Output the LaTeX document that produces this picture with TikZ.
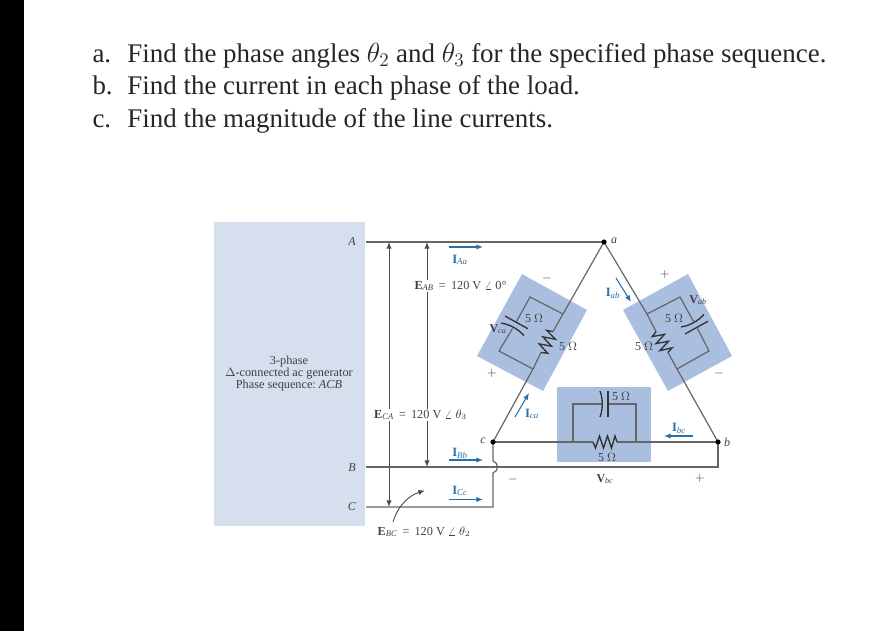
\documentclass[tikz,border=0pt]{standalone}
\usepackage{fontspec}
\setmainfont{Liberation Serif}
\usetikzlibrary{arrows.meta}

\newcommand{\qlab}[2]{$\mathbf{#1}_{\mathit{#2}}$}
\newcommand{\taskmark}[1]{\makebox[26.2pt][l]{#1}}

\tikzset{every picture/.style={line width=0.75pt}}
\tikzset{
  task/.style={anchor=west,inner sep=0pt,text=black!85,font=\fontsize{20.2pt}{22pt}\selectfont},
  lab/.style={inner sep=0.75pt,text=black!75,font=\fontsize{9pt}{9pt}\selectfont},
  cur/.style={inner sep=0.75pt,text=curblue,font=\fontsize{9.5pt}{9.5pt}\selectfont},
  emf/.style={inner sep=1pt,fill=white,text=black!75,font=\fontsize{9.2pt}{9.2pt}\selectfont},
  wire/.style={draw=black!60,line width=0.9pt},
  curarrow/.style={draw=curblue,line width=0.8pt,-{Latex[length=5pt,width=4pt]}},
  volt/.style={draw=black!70,line width=0.7pt,{Latex[length=5pt,width=4pt]}-{Latex[length=5pt,width=4pt]}},
  respic/.pic={\draw[black!80,line width=1pt] (-12,0) -- (-9.5,-6) -- (-5.5,6) -- (-1.5,-6) -- (2.5,6) -- (6.5,-6) -- (10,6) -- (12,0);},
  cappic/.pic={\draw[black!80,line width=1pt] (-5,-13) .. controls (-2,-5) and (-2,5) .. (-5,13);
    \draw[black!80,line width=1pt] (3,-13) -- (3,13);}
}
\definecolor{curblue}{RGB}{42,110,170}
\definecolor{genblue}{RGB}{213,223,238}
\definecolor{loadblue}{RGB}{170,190,224}

\begin{document}
\begin{tikzpicture}[x=0.75pt,y=0.75pt,yscale=-1,xscale=1]
        \useasboundingbox (0,0) rectangle (887,631);

        %Shape: Rectangle
        \fill [black] (0,0) rectangle (24,631);
        \fill [genblue] (214,222) rectangle (365,526);
        \fill [loadblue] (522,274) -- (587,310) -- (543,391) -- (477,356) -- cycle;
        \fill [loadblue] (688,274) -- (623,310) -- (668,391) -- (732,356) -- cycle;
        \fill [loadblue] (557,387) rectangle (651,462);

        % Points
        \coordinate (ptA) at (366,242);
        \coordinate (ptB) at (366,467);
        \coordinate (ptC) at (366,507);
        \coordinate (ptAu) at (427,242);
        \coordinate (ptBu) at (427,467);
        \coordinate (ptAv) at (389,242);
        \coordinate (ptCv) at (389,507);
        \coordinate (a) at (604,242);
        \coordinate (b) at (718,442);
        \coordinate (c) at (493,442);
        \coordinate (bumpU) at (493,461);
        \coordinate (bumpD) at (493,473);
        \coordinate (corB) at (718,467);
        \coordinate (corC) at (493,507);

        \coordinate (leftT) at (563,314);
        \coordinate (leftB) at (533,369);
        \coordinate (leftTo) at (530,297);
        \coordinate (leftBo) at (499,351);
        \coordinate (leftRu) at (553,331.5);
        \coordinate (leftRd) at (541,352.5);
        \coordinate (leftCu) at (516.5,321.5);
        \coordinate (leftCd) at (512.5,328.5);

        \coordinate (rightT) at (647,314);
        \coordinate (rightB) at (677,369);
        \coordinate (rightTo) at (680,297);
        \coordinate (rightBo) at (709,351);
        \coordinate (rightRu) at (656,331.5);
        \coordinate (rightRd) at (668,352.5);
        \coordinate (rightCu) at (693.5,321.5);
        \coordinate (rightCd) at (697.5,328.5);

        \coordinate (botL) at (573,442);
        \coordinate (botR) at (636,442);
        \coordinate (botLo) at (573,404);
        \coordinate (botRo) at (636,404);
        \coordinate (botRl) at (593,442);
        \coordinate (botRr) at (617,442);
        \coordinate (botCl) at (602,404);
        \coordinate (botCr) at (608,404);

        % Lines
        \draw [wire] (ptA) -- (a);
        \draw [wire] (ptB) -- (corB) -- (b);
        \draw [wire] (ptC) -- (corC) -- (bumpD) .. controls (499,471) and (499,463) .. (bumpU) -- (c);
        \draw [wire] (c) -- (botL) (botR) -- (b);
        \draw [wire] (a) -- (leftT) -- (leftRu) (leftRd) -- (leftB) -- (c);
        \draw [wire] (a) -- (rightT) -- (rightRu) (rightRd) -- (rightB) -- (b);
        \draw [wire] (leftT) -- (leftTo) -- (leftCu) (leftCd) -- (leftBo) -- (leftB);
        \draw [wire] (rightT) -- (rightTo) -- (rightCu) (rightCd) -- (rightBo) -- (rightB);
        \draw [wire] (botL) -- (botLo) -- (botCl) (botCr) -- (botRo) -- (botR);
        \draw [wire] (botL) -- (botRl) (botRr) -- (botR);

        % Elements
        \pic [rotate=61] at (547,342) {respic};
        \pic [rotate=-61] at (662,342) {respic};
        \pic at (605,442) {respic};
        \pic [rotate=61] at (515,325) {cappic};
        \pic [rotate=-61] at (695,325) {cappic};
        \pic at (605,404) {cappic};

        % Dots
        \fill [black] (a) circle [radius=2.6] (b) circle [radius=2.6] (c) circle [radius=2.6];

        % Voltage arrows
        \draw [volt] (ptAu) -- (ptBu);
        \draw [volt] (ptAv) -- (ptCv);
        \coordinate (bcFrom) at (393,522);
        \coordinate (bcTo) at (425,490.5);
        \draw [draw=black!70,line width=0.7pt,-{Latex[length=5pt,width=4pt]}] (bcFrom) .. controls (398,505) and (410,495) .. (bcTo);
        \node (lblEab) [emf] at (460.5,286) {\qlab{E}{AB} \,=\, 120 V $\angle$ 0°};
        \node (lblEca) [emf] at (420.5,415) {\qlab{E}{CA} \,=\, 120 V $\angle$ $\theta_3$};
        \node (lblEbc) [emf] at (424,532) {\qlab{E}{BC} \,=\, 120 V $\angle$ $\theta_2$};

        % Current arrows
        \coordinate (iAa1) at (449,247); \coordinate (iAa2) at (483,247);
        \coordinate (iBb1) at (449,460); \coordinate (iBb2) at (483,460);
        \coordinate (iCc1) at (449,499.5); \coordinate (iCc2) at (483,499.5);
        \coordinate (iab1) at (616,278); \coordinate (iab2) at (631,302);
        \coordinate (ica1) at (515,417); \coordinate (ica2) at (529,393);
        \coordinate (ibc1) at (693,436); \coordinate (ibc2) at (664,436);
        \draw [curarrow] (iAa1) -- (iAa2);
        \draw [curarrow] (iBb1) -- (iBb2);
        \draw [curarrow] (iCc1) -- (iCc2);
        \draw [curarrow] (iab1) -- (iab2);
        \draw [curarrow] (ica1) -- (ica2);
        \draw [curarrow] (ibc1) -- (ibc2);

        % Text Node
        \node (task1) [task] at (92,56) {\taskmark{a.}Find the phase angles $\theta_2$ and $\theta_3$ for the specified phase sequence.};
        \node (task2) [task] at (92,88) {\taskmark{b.}Find the current in each phase of the load.};
        \node (task3) [task] at (92,121) {\taskmark{c.}Find the magnitude of the line currents.};

        \node (gen1) [lab,align=center,font=\fontsize{9.2pt}{9pt}\selectfont] at (289,374) {3-phase\\$\Delta$-connected ac generator\\Phase sequence:\ \textit{ACB}};

        \node (lblA) [lab] at (352,242) {\textit{A}};
        \node (lblB) [lab] at (352,468) {\textit{B}};
        \node (lblC) [lab] at (352,507) {\textit{C}};
        \node (lbla) [lab] at (614,241) {\textit{a}};
        \node (lblb) [lab] at (727,442) {\textit{b}};
        \node (lblc) [lab] at (483,441) {\textit{c}};

        \node (lblIAa) [cur] at (460,260) {\qlab{I}{Aa}};
        \node (lblIBb) [cur] at (460,453) {\qlab{I}{Bb}};
        \node (lblICc) [cur] at (460,491) {\qlab{I}{Cc}};
        \node (lblIab) [cur] at (613,293) {\qlab{I}{ab}};
        \node (lblIca) [cur] at (532,414) {\qlab{I}{ca}};
        \node (lblIbc) [cur] at (679,428) {\qlab{I}{bc}};

        \node (lblVca) [lab] at (498,329) {\qlab{V}{ca}};
        \node (lblVab) [lab] at (698,300) {\qlab{V}{ab}};
        \node (lblVbc) [lab] at (605,479) {\qlab{V}{bc}};

        \node (ohmL1) [lab] at (534,318) {5 $\Omega$};
        \node (ohmL2) [lab] at (568,346) {5 $\Omega$};
        \node (ohmR1) [lab] at (674,318) {5 $\Omega$};
        \node (ohmR2) [lab] at (644,346) {5 $\Omega$};
        \node (ohmB1) [lab] at (621,396) {5 $\Omega$};
        \node (ohmB2) [lab] at (607,457) {5 $\Omega$};

        \node (sgn1) [lab] at (547,278) {$-$};
        \node (sgn2) [lab] at (492,373) {$+$};
        \node (sgn3) [lab] at (665,274) {$+$};
        \node (sgn4) [lab] at (719,373) {$-$};
        \node (sgn5) [lab] at (513,479) {$-$};
        \node (sgn6) [lab] at (700,478) {$+$};

    \end{tikzpicture}
\end{document}
